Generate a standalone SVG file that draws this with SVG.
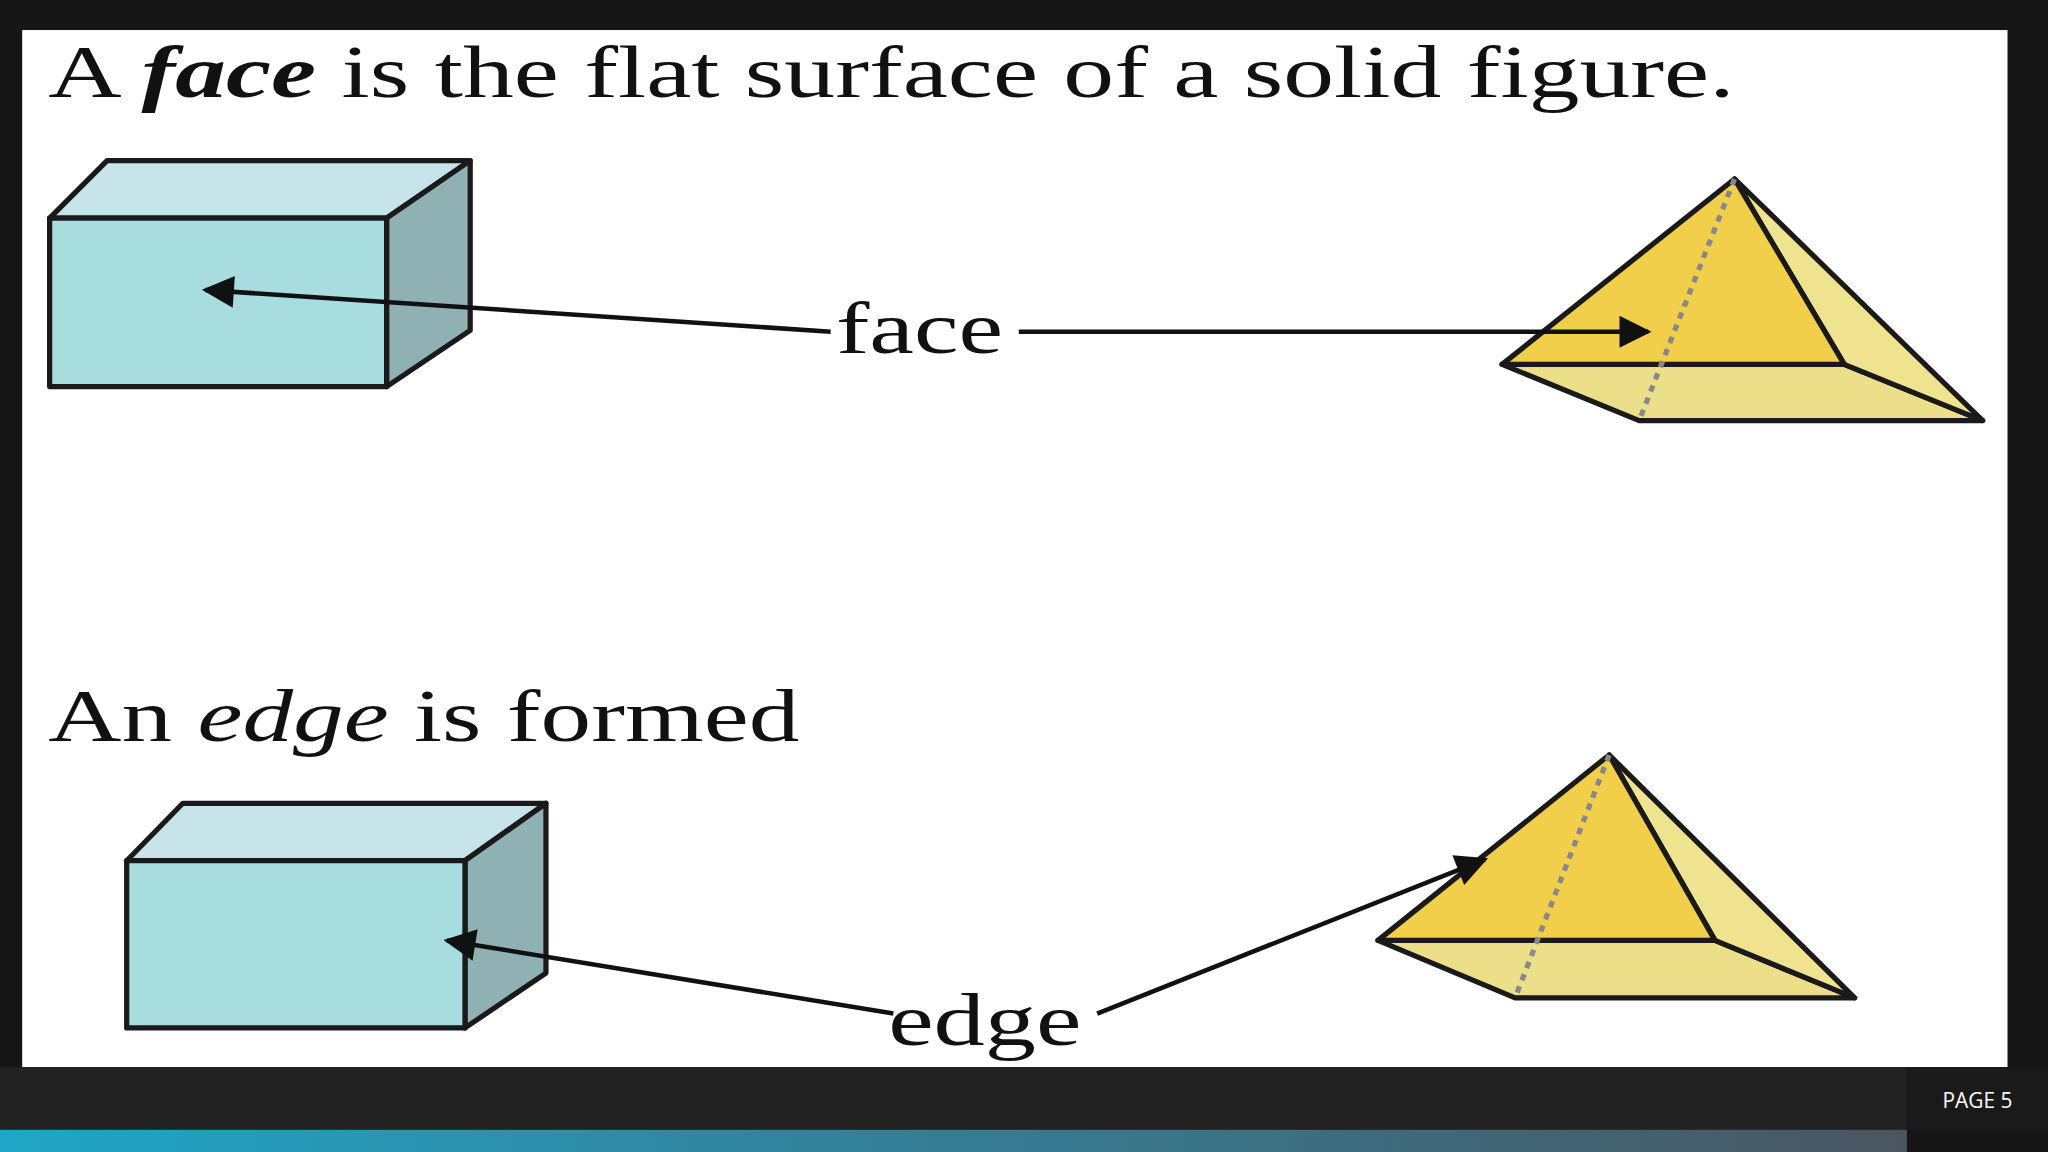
<svg xmlns="http://www.w3.org/2000/svg" width="2048" height="1152" viewBox="0 0 2048 1152">
<defs>
<linearGradient id="bar" x1="0" x2="1" y1="0" y2="0"><stop offset="0" stop-color="#1fa6c8"/><stop offset="1" stop-color="#4a5560"/></linearGradient>
<marker id="ah" viewBox="0 0 10 10" refX="9" refY="5" markerWidth="11" markerHeight="7" orient="auto-start-reverse" markerUnits="strokeWidth"><path d="M0,0L10,5L0,10z" fill="#111"/></marker>
<style>
.t{font-family:"Liberation Serif",serif;font-size:56px;fill:#111}
.s{stroke:#1a1a1a;stroke-width:4;stroke-linejoin:round}
.c{stroke:#111;stroke-width:3.5;fill:none}
</style>
</defs>
<rect width="2048" height="1152" fill="#161616"/>
<g transform="scale(1.30612)">
<rect x="17" y="23" width="1520" height="794" fill="#fff"/>
<rect x="0" y="817" width="1460" height="48" fill="#222"/>
<rect x="0" y="865" width="1460" height="17" fill="url(#bar)"/>
<rect x="1460" y="817" width="108" height="48" fill="#1a1a1a"/>
<text x="1514" y="848" text-anchor="middle" font-family="Open Sans,sans-serif" font-size="16" fill="#fff">PAGE 5</text>
<text class="t" x="37" y="74" textLength="1291" lengthAdjust="spacingAndGlyphs">A <tspan font-style="italic" font-weight="bold">face</tspan> is the flat surface of a solid figure.</text>
<text class="t" x="37" y="567" textLength="575" lengthAdjust="spacingAndGlyphs">An <tspan font-style="italic">edge</tspan> is formed</text>
<g id="cube1">
<path class="s" d="M38,167L82,123L360,123L296,167Z" fill="#c5e3e8"/>
<path class="s" d="M296,167L360,123L360,253L296,296Z" fill="#8fb1b3"/>
<rect class="s" x="38" y="167" width="258" height="129" fill="#a8dde0"/>
</g>
<g id="pyr1">
<path class="s" d="M1150,279L1412,279L1518,322L1255,322Z" fill="#ebdf8a"/>
<path class="s" d="M1328,137L1412,279L1518,322Z" fill="#f0e390"/>
<path class="s" d="M1328,137L1150,279L1412,279Z" fill="#f2cf4a"/>
<path d="M1328,137L1255,322" stroke="#888" stroke-width="4" stroke-dasharray="5,5" fill="none"/>
</g>
<g id="cube2">
<path class="s" d="M97,659L140,615L418,615L356,659Z" fill="#c5e3e8"/>
<path class="s" d="M356,659L418,615L418,745L356,787Z" fill="#8fb1b3"/>
<rect class="s" x="97" y="659" width="259" height="128" fill="#a8dde0"/>
</g>
<g id="pyr2">
<path class="s" d="M1055,720L1313,720L1420,764L1160,764Z" fill="#ebdf8a"/>
<path class="s" d="M1232,578L1313,720L1420,764Z" fill="#f0e390"/>
<path class="s" d="M1232,578L1055,720L1313,720Z" fill="#f2cf4a"/>
<path d="M1232,578L1160,764" stroke="#888" stroke-width="4" stroke-dasharray="5,5" fill="none"/>
</g>
<text class="t" x="640" y="270" textLength="128" lengthAdjust="spacingAndGlyphs">face</text>
<text class="t" x="680" y="800" textLength="148" lengthAdjust="spacingAndGlyphs">edge</text>
<g id="connectors">
<path class="c" d="M636,254L157,222" marker-end="url(#ah)"/>
<path class="c" d="M780,254L1262,254" marker-end="url(#ah)"/>
<path class="c" d="M684,776L342,720" marker-end="url(#ah)"/>
<path class="c" d="M840,776L1137,658" marker-end="url(#ah)"/>
</g>
</g>
</svg>
